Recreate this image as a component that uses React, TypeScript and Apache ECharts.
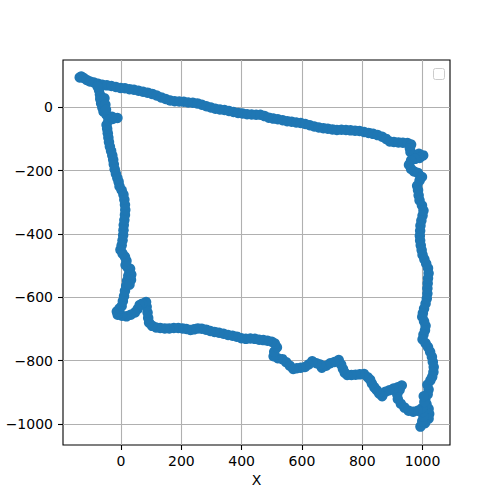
import { useRef, useEffect } from "react";
import * as echarts from "echarts";

// trajectory, in walking order
const topEdge = [
    [-137, 94], [-132, 97], [-124, 92], [-114, 86], [-103, 81], [-90, 78], [-76, 74], [-62, 71],
    [-47, 69], [-32, 67], [-17, 64], [-2, 61], [13, 60], [28, 57], [43, 55], [58, 52], [73, 49],
    [88, 46], [103, 42], [118, 37], [133, 31], [148, 26], [163, 21], [178, 19], [193, 18], [208, 17],
    [223, 15], [238, 14], [253, 12], [268, 8], [283, 3], [298, -1], [313, -5], [328, -7], [343, -9],
    [358, -12], [373, -15], [388, -18], [403, -20], [418, -22], [433, -23], [448, -24], [462, -24],
    [476, -28], [490, -33], [505, -36], [520, -38], [536, -41], [551, -44], [566, -46], [581, -48],
    [596, -50], [611, -53], [626, -57], [641, -61], [656, -64], [671, -66], [686, -68], [701, -70],
    [716, -72], [731, -71], [746, -72], [761, -73], [776, -74], [791, -75], [806, -78], [821, -81],
    [836, -84], [851, -88], [866, -93], [879, -100], [891, -108], [905, -110], [920, -111],
    [935, -112], [950, -113], [962, -118],
];

const rightEdge = [
    [958, -130], [960, -142], [972, -150], [988, -147], [1002, -152], [990, -160], [975, -163],
    [962, -168], [955, -182], [962, -195], [972, -203], [985, -208], [998, -220], [990, -232],
    [982, -248], [985, -262], [987, -278], [990, -294], [998, -310], [1003, -326], [1000, -342],
    [996, -358], [993, -374], [992, -390], [991, -406], [992, -421], [994, -436], [997, -451],
    [1000, -466], [1006, -480], [1012, -494], [1018, -508], [1020, -524], [1018, -540], [1017, -556],
    [1016, -572], [1016, -588], [1014, -604], [1010, -620], [1005, -636], [1001, -650], [999, -662],
    [1005, -676], [1010, -690], [1008, -704], [1003, -718], [1000, -733], [1010, -745], [1018, -757],
    [1025, -772], [1031, -788], [1034, -804], [1037, -820], [1036, -836], [1032, -851], [1026, -862],
    [1016, -876], [1020, -891], [1017, -906], [1009, -921], [1013, -937], [1020, -952], [1022, -968],
    [1020, -983], [1008, -997], [993, -1008], [999, -991], [1003, -976], [1000, -962], [998, -950],
    [1006, -930], [1004, -912],
];

const bottomEdge = [
    [984, -958], [969, -961], [954, -958], [940, -948], [928, -936], [918, -921], [916, -906],
    [924, -892], [931, -878], [918, -884], [904, -888], [890, -893], [877, -898], [866, -912],
    [856, -903], [848, -893], [840, -884], [832, -872], [826, -860], [818, -852], [806, -842],
    [792, -843], [778, -844], [764, -845], [750, -845], [742, -838], [736, -826], [730, -812],
    [722, -798], [708, -804], [694, -808], [680, -816], [666, -822], [660, -812], [648, -808],
    [634, -802], [622, -812], [610, -820], [596, -822], [583, -824], [571, -826], [560, -816],
    [548, -805], [535, -795], [520, -792], [506, -786], [508, -772], [517, -758], [510, -746],
    [500, -740], [486, -737], [472, -735], [458, -734], [444, -731], [429, -730], [414, -731],
    [399, -729], [384, -724], [370, -721], [355, -719], [340, -715], [325, -712], [310, -709],
    [296, -706], [282, -702], [268, -699], [255, -698], [242, -701], [230, -703], [217, -700],
    [204, -698], [190, -697], [175, -697], [160, -698], [145, -698], [130, -697], [116, -695],
    [103, -690], [93, -680], [90, -665], [88, -648], [85, -630], [83, -615], [70, -620], [62, -624],
    [55, -637], [46, -648], [32, -655], [18, -660], [3, -658], [-11, -655], [-14, -645],
];

const leftEdge = [
    [-5, -635], [2, -628], [6, -612], [10, -596], [13, -580], [17, -564], [20, -548], [24, -532],
    [28, -520], [30, -510], [34, -528], [33, -545], [28, -560], [22, -506], [15, -498], [18, -485],
    [13, -472], [5, -462], [-2, -450], [2, -436], [5, -420], [7, -404], [8, -388], [9, -372],
    [11, -356], [13, -340], [14, -324], [13, -308], [11, -292], [8, -276], [2, -262], [-5, -250],
    [-8, -236], [-12, -224], [-17, -210], [-21, -196], [-24, -180], [-26, -166], [-29, -152],
    [-33, -138], [-37, -124], [-40, -110], [-42, -96], [-44, -82], [-46, -68], [-48, -56],
    [-42, -42], [-28, -37], [-12, -34], [-30, -30], [-48, -24], [-58, -14], [-62, -1], [-66, 12],
    [-69, 26], [-70, 40], [-73, 54], [-78, 66], [-55, 28], [-52, 8], [-50, -8],
];

const xTicks = [0, 200, 400, 600, 800, 1000];
const yTicks = [-1000, -800, -600, -400, -200, 0];

const FONT = "DejaVu Sans";
const fmt = (v: number) => String(v).replace("-", "\u2212");

function App() {
    const chartRef = useRef<HTMLDivElement | null>(null);

    useEffect(() => {
        if (!chartRef.current) return;
        const chart = echarts.init(chartRef.current, null, { renderer: "svg" });

        const axisCommon = {
            type: "value" as const,
            axisLine: { show: false, onZero: false },
            axisTick: { show: true, inside: false, length: 5, lineStyle: { color: "#000", width: 1.1 } },
            splitLine: { show: true, lineStyle: { color: "#b0b0b0", width: 1.1 } },
        };

        chart.setOption({
            animation: false,
            grid: {
                left: 63,
                top: 60,
                width: 387,
                height: 385,
                show: true,
                borderColor: "#000",
                borderWidth: 1.1,
                backgroundColor: "transparent",
            },
            xAxis: {
                ...axisCommon,
                min: -192.5,
                max: 1091,
                axisTick: { ...axisCommon.axisTick, customValues: xTicks },
                axisLabel: {
                    customValues: xTicks,
                    formatter: fmt,
                    color: "#000",
                    fontFamily: FONT,
                    fontSize: 14,
                    margin: 9,
                },
                name: "X",
                nameLocation: "middle",
                nameGap: 27,
                nameTextStyle: { color: "#000", fontFamily: FONT, fontSize: 14 },
            },
            yAxis: {
                ...axisCommon,
                min: -1066,
                max: 149,
                axisTick: { ...axisCommon.axisTick, customValues: yTicks },
                axisLabel: {
                    customValues: yTicks,
                    formatter: fmt,
                    color: "#000",
                    fontFamily: FONT,
                    fontSize: 14,
                    margin: 10,
                },
            },
            graphic: [
                {
                    type: "rect",
                    left: 433,
                    top: 68,
                    shape: { width: 11, height: 11, r: 2 },
                    style: { fill: "rgba(255,255,255,0.8)", stroke: "#cccccc", lineWidth: 1 },
                },
            ],
            series: [
                {
                    type: "scatter",
                    data: [...topEdge, ...rightEdge, ...bottomEdge, ...leftEdge],
                    symbolSize: 10.5,
                    itemStyle: { color: "#1f77b4", opacity: 1 },
                    emphasis: { disabled: true },
                },
            ],
        });

        return () => {
            chart.dispose();
        };
    }, []);

    return (
        <div
            ref={chartRef}
            style={{ position: "absolute", left: 0, top: 0, width: "500px", height: "500px", background: "#fff" }}
        />
    );
}

export default App;
